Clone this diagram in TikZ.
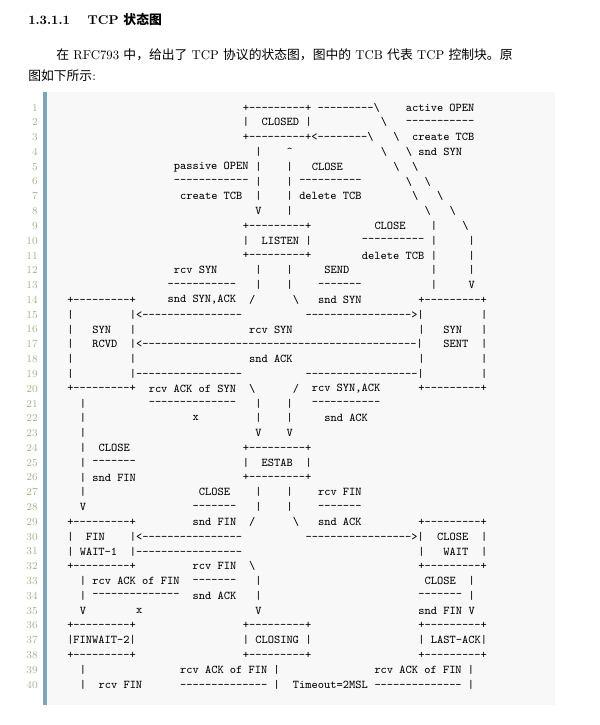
\documentclass[tikz,border=0pt]{standalone}
\usepackage{fontspec}
\newfontfamily\cjk{Noto Sans CJK SC}
\definecolor{codebg}{RGB}{248,248,248}
\definecolor{codebar}{RGB}{125,165,185}
\definecolor{lineno}{RGB}{175,175,140}
\newcommand{\bs}{\textbackslash}
\tikzset{
  code/.style={anchor=west, inner sep=0pt, font=\fontsize{8.9}{10}\ttfamily},
  num/.style={anchor=east, inner sep=0pt, text=lineno, font=\fontsize{8}{10}\selectfont},
  body/.style={anchor=west, inner sep=0pt, font=\fontsize{9.6}{12}\selectfont}
}
\begin{document}
\begin{tikzpicture}[x=0.75pt,y=-0.75pt]
  \useasboundingbox (0,0) rectangle (600,725);
  % heading and text
  \node[body, font=\fontsize{9.6}{12}\bfseries] (head) at (28,20) {1.3.1.1\quad\ TCP {\cjk 状态图}};
  \node[body] (par1) at (56,55) {{\cjk 在} RFC793 {\cjk 中，给出了} TCP {\cjk 协议的状态图，图中的} TCB {\cjk 代表} TCP {\cjk 控制块。原}};
  \node[body] (par2) at (28,76) {{\cjk 图如下所示}:};
  % listing box
  \fill[codebg] (43,92) rectangle (555,705);
  \fill[codebar] (43,92) rectangle (47,705);
  \foreach \n in {1,...,40}
    \node[num] (n\n) at (38,{107.5+(\n-1)*14.8}) {\n};
  % diagram text, line/column/text
  \foreach \l/\c/\t in {
    1/28/{+---------+ ---------\bs}, 1/54/{active OPEN},
    2/28/{|}, 2/31/{CLOSED}, 2/38/{|}, 2/50/{\bs}, 2/54/{-----------},
    3/28/{+---------+<--------\bs}, 3/52/{\bs}, 3/55/{create TCB},
    4/30/{|}, 4/35/{\textasciicircum}, 4/50/{\bs}, 4/54/{\bs}, 4/56/{snd SYN},
    5/17/{passive OPEN}, 5/30/{|}, 5/35/{|}, 5/39/{CLOSE}, 5/52/{\bs}, 5/55/{\bs},
    6/17/{------------}, 6/30/{|}, 6/35/{|}, 6/37/{----------}, 6/54/{\bs}, 6/57/{\bs},
    7/18/{create TCB}, 7/30/{|}, 7/35/{|}, 7/37/{delete TCB}, 7/55/{\bs}, 7/59/{\bs},
    8/30/{V}, 8/35/{|}, 8/57/{\bs}, 8/61/{\bs},
    9/28/{+---------+}, 9/49/{CLOSE}, 9/58/{|}, 9/63/{\bs},
    10/28/{|}, 10/31/{LISTEN}, 10/38/{|}, 10/47/{----------}, 10/58/{|}, 10/64/{|},
    11/28/{+---------+}, 11/47/{delete TCB}, 11/58/{|}, 11/64/{|},
    12/17/{rcv SYN}, 12/30/{|}, 12/35/{|}, 12/41/{SEND}, 12/58/{|}, 12/64/{|},
    13/16/{-----------}, 13/30/{|}, 13/35/{|}, 13/40/{-------}, 13/58/{|}, 13/64/{V},
    14/0/{+---------+}, 14/16/{snd SYN,ACK}, 14/29/{/}, 14/36/{\bs}, 14/40/{snd SYN}, 14/56/{+---------+},
    15/0/{|}, 15/10/{|<----------------}, 15/38/{----------------->|}, 15/66/{|},
    16/0/{|}, 16/4/{SYN}, 16/10/{|}, 16/29/{rcv SYN}, 16/56/{|}, 16/60/{SYN}, 16/66/{|},
    17/0/{|}, 17/4/{RCVD}, 17/10/{|<--------------------------------------------|}, 17/60/{SENT}, 17/66/{|},
    18/0/{|}, 18/10/{|}, 18/29/{snd ACK}, 18/56/{|}, 18/66/{|},
    19/0/{|}, 19/10/{|-----------------}, 19/38/{------------------|}, 19/66/{|},
    20/0/{+---------+}, 20/13/{rcv ACK of SYN}, 20/29/{\bs}, 20/36/{/}, 20/39/{rcv SYN,ACK}, 20/56/{+---------+},
    21/2/{|}, 21/13/{--------------}, 21/30/{|}, 21/35/{|}, 21/39/{-----------},
    22/2/{|}, 22/20/{x}, 22/30/{|}, 22/35/{|}, 22/41/{snd ACK},
    23/2/{|}, 23/30/{V}, 23/35/{V},
    24/2/{|}, 24/5/{CLOSE}, 24/28/{+---------+},
    25/2/{|}, 25/4/{-------}, 25/28/{|}, 25/31/{ESTAB}, 25/38/{|},
    26/2/{|}, 26/4/{snd FIN}, 26/28/{+---------+},
    27/2/{|}, 27/21/{CLOSE}, 27/30/{|}, 27/35/{|}, 27/40/{rcv FIN},
    28/2/{V}, 28/20/{-------}, 28/30/{|}, 28/35/{|}, 28/40/{-------},
    29/0/{+---------+}, 29/20/{snd FIN}, 29/29/{/}, 29/36/{\bs}, 29/40/{snd ACK}, 29/56/{+---------+},
    30/0/{|}, 30/3/{FIN}, 30/10/{|<----------------}, 30/38/{----------------->|}, 30/59/{CLOSE}, 30/66/{|},
    31/0/{|}, 31/2/{WAIT-1}, 31/10/{|-----------------}, 31/56/{|}, 31/60/{WAIT}, 31/66/{|},
    32/0/{+---------+}, 32/20/{rcv FIN}, 32/29/{\bs}, 32/56/{+---------+},
    33/2/{|}, 33/4/{rcv ACK of FIN}, 33/20/{-------}, 33/30/{|}, 33/57/{CLOSE}, 33/64/{|},
    34/2/{|}, 34/4/{--------------}, 34/20/{snd ACK}, 34/30/{|}, 34/56/{-------}, 34/64/{|},
    35/2/{V}, 35/11/{x}, 35/30/{V}, 35/56/{snd FIN}, 35/64/{V},
    36/0/{+---------+}, 36/28/{+---------+}, 36/56/{+---------+},
    37/0/{|FINWAIT-2|}, 37/28/{|}, 37/30/{CLOSING}, 37/38/{|}, 37/56/{|}, 37/58/{LAST-ACK|},
    38/0/{+---------+}, 38/28/{+---------+}, 38/56/{+---------+},
    39/2/{|}, 39/18/{rcv ACK of FIN |}, 39/49/{rcv ACK of FIN |},
    40/2/{|}, 40/5/{rcv FIN}, 40/18/{-------------- |}, 40/36/{Timeout=2MSL}, 40/49/{-------------- |}}
    \node[code] at ({67+\c*6.27},{107.5+(\l-1)*14.8}) {\t};
\end{tikzpicture}
\end{document}
